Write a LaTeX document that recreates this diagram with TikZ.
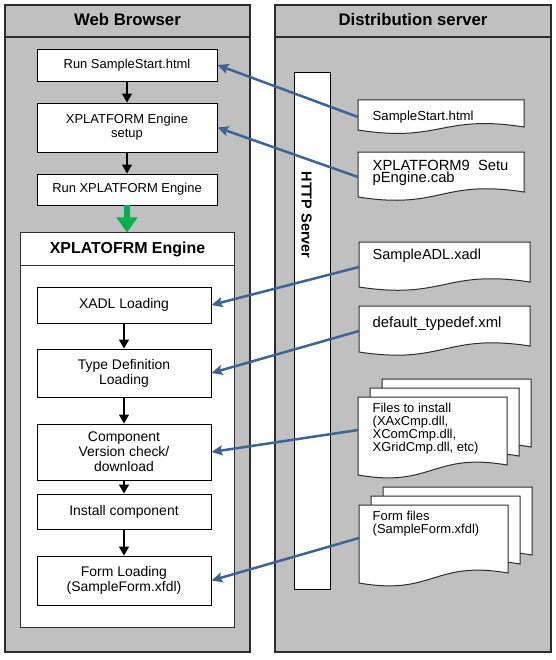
\documentclass[tikz,border=0pt]{standalone}
\usepackage{fontspec}
\setmainfont{Liberation Sans}
\usetikzlibrary{arrows.meta}
\definecolor{panelgray}{RGB}{192,192,192}
\definecolor{connblue}{RGB}{62,100,148}
\definecolor{arrowgreen}{RGB}{0,176,80}
\definecolor{edgegray}{RGB}{45,45,45}
\newcommand\fs[2]{\fontsize{#1}{#2}\selectfont\lineskiplimit=-20pt\relax}
\newcommand\docshape[5]{%
  \pgfmathsetmacro\dxm{(#1+#3)/2}%
  \filldraw[docline] (#1,#2) -- (#3,#2) -- (#3,#5) .. controls (\dxm,#5-13) and (\dxm,#4+13) .. (#1,#4) -- cycle;%
}
\begin{document}
\begin{tikzpicture}[x=1bp,y=-1bp,
  panel/.style={fill=panelgray,draw=edgegray,line width=1.2bp},
  boxnode/.style={draw=black,fill=white,line width=0.9bp,inner sep=0pt,align=center},
  topbox/.style={boxnode,minimum width=180bp,font={\fs{13}{14}}},
  innerbox/.style={boxnode,minimum width=174bp,font={\fs{14}{15}}},
  doctext/.style={anchor=north west,inner sep=0pt,align=left},
  docline/.style={fill=white,draw=edgegray,line width=1bp},
  flow/.style={draw=black,line width=1.2bp,-{Triangle[length=9bp,width=10bp]}},
  fetch/.style={draw=connblue,line width=2.5bp,-{Stealth[length=11bp,width=10bp,inset=2bp]}},
  start/.style={draw=arrowgreen,line width=5.5bp,-{Triangle[length=15bp,width=20bp]}},
  title/.style={font={\bfseries\fs{16.8}{18}},inner sep=0pt,anchor=base}
]
\useasboundingbox (0,0) rectangle (556,660);
\fill[white] (0,0) rectangle (556,660);

% panels
\draw[panel] (5,5) rectangle (250,652);
\draw[edgegray,line width=1.2bp] (5,37) -- (250,37);
\node[title] (wbt) at (127.5,25.5) {Web Browser};
\draw[panel] (275,5) rectangle (551,652);
\draw[edgegray,line width=1.2bp] (275,37) -- (551,37);
\node[title] (dst) at (413,25.5) {Distribution server};

% HTTP server bar
\node[draw=black,fill=white,line width=0.9bp,minimum width=36bp,minimum height=517bp,inner sep=0pt] (http) at (312,330.5) {};
\node[rotate=-90,inner sep=0pt,font={\bfseries\fs{14.5}{16}}] (httpt) at (306.5,215) {HTTP Server};

% top boxes
\node[topbox,minimum height=32bp] (b1) at (127,65) {Run SampleStart.html};
\node[topbox,minimum height=49bp] (b2) at (127,127.5) {XPLATFORM Engine\\setup};
\node[topbox,minimum height=31bp] (b3) at (127,189.5) {Run XPLATFORM Engine};

% engine container
\node[draw=edgegray,fill=white,line width=1bp,minimum width=213bp,minimum height=394bp,inner sep=0pt] (eng) at (127.5,430) {};
\draw[edgegray,line width=1bp] (21,265) -- (234,265);
\node[title,font={\bfseries\fs{16}{18}}] (engt) at (127.5,253.5) {XPLATOFRM Engine};

% inner boxes
\node[innerbox,minimum height=36bp] (i1) at (124,305) {XADL Loading};
\node[innerbox,minimum height=48bp] (i2) at (124,373) {Type Definition\\Loading};
\node[innerbox,minimum height=56bp] (i3) at (124,452) {Component\\Version check/\\download};
\node[innerbox,minimum height=35bp] (i4) at (124,511.5) {Install component};
\node[innerbox,minimum height=49bp] (i5) at (124,580.5) {Form Loading\\(SampleForm.xfdl)};

% flow arrows
\draw[flow] (b1.south) -- (b2.north);
\draw[flow] (b2.south) -- (b3.north);
\draw[start] (b3.south) -- (b3.south |- eng.north);
\draw[flow] (i1.south) -- (i2.north);
\draw[flow] (i2.south) -- (i3.north);
\draw[flow] (i3.south) -- (i4.north);
\draw[flow] (i4.south) -- (i5.north);

% documents
\docshape{358}{100}{524}{130}{127}
\node[doctext,font={\fs{13.2}{14}}] (t1) at (372.5,110.4) {SampleStart.html};
\docshape{358}{152}{524}{197}{192}
\node[doctext,font={\fs{14.8}{12}}] (t2) at (372.5,159.8) {XPLATFORM9\ \ Setu\\pEngine.cab};
\docshape{359}{242}{530}{287}{282}
\node[doctext,font={\fs{14.6}{16}}] (t3) at (372.5,248.6) {SampleADL.xadl};
\docshape{359}{306}{530}{352}{346}
\node[doctext,font={\fs{14.9}{16}}] (t4) at (372.5,316.4) {default\_typedef.xml};

\docshape{382}{379}{531}{457}{447}
\docshape{370}{388}{519}{466}{456}
\docshape{358}{397}{507}{475}{465}
\node[doctext,font={\fs{13}{12.8}}] (t5) at (372.5,403.2) {Files to install\\(XAxCmp.dll,\\XComCmp.dll,\\XGridCmp.dll, etc)};

\docshape{383}{487}{532}{565}{555}
\docshape{371}{496}{520}{574}{564}
\docshape{359}{505}{508}{583}{573}
\node[doctext,font={\fs{13}{12.3}}] (t6) at (372.5,511.2) {Form files\\(SampleForm.xfdl)};

% connector ends at documents
\coordinate (c1) at (358,117);
\coordinate (c2) at (358,177);
\coordinate (c3) at (359,267);
\coordinate (c4) at (359,331);
\coordinate (c5) at (358,430);
\coordinate (c6) at (359,538);

\draw[fetch] (c1) -- (b1.east);
\draw[fetch] (c2) -- (b2.east);
\draw[fetch] (c3) -- (i1.east);
\draw[fetch] (c4) -- (i2.east);
\draw[fetch] (c5) -- (i3.east);
\draw[fetch] (c6) -- (i5.east);
\end{tikzpicture}
\end{document}
